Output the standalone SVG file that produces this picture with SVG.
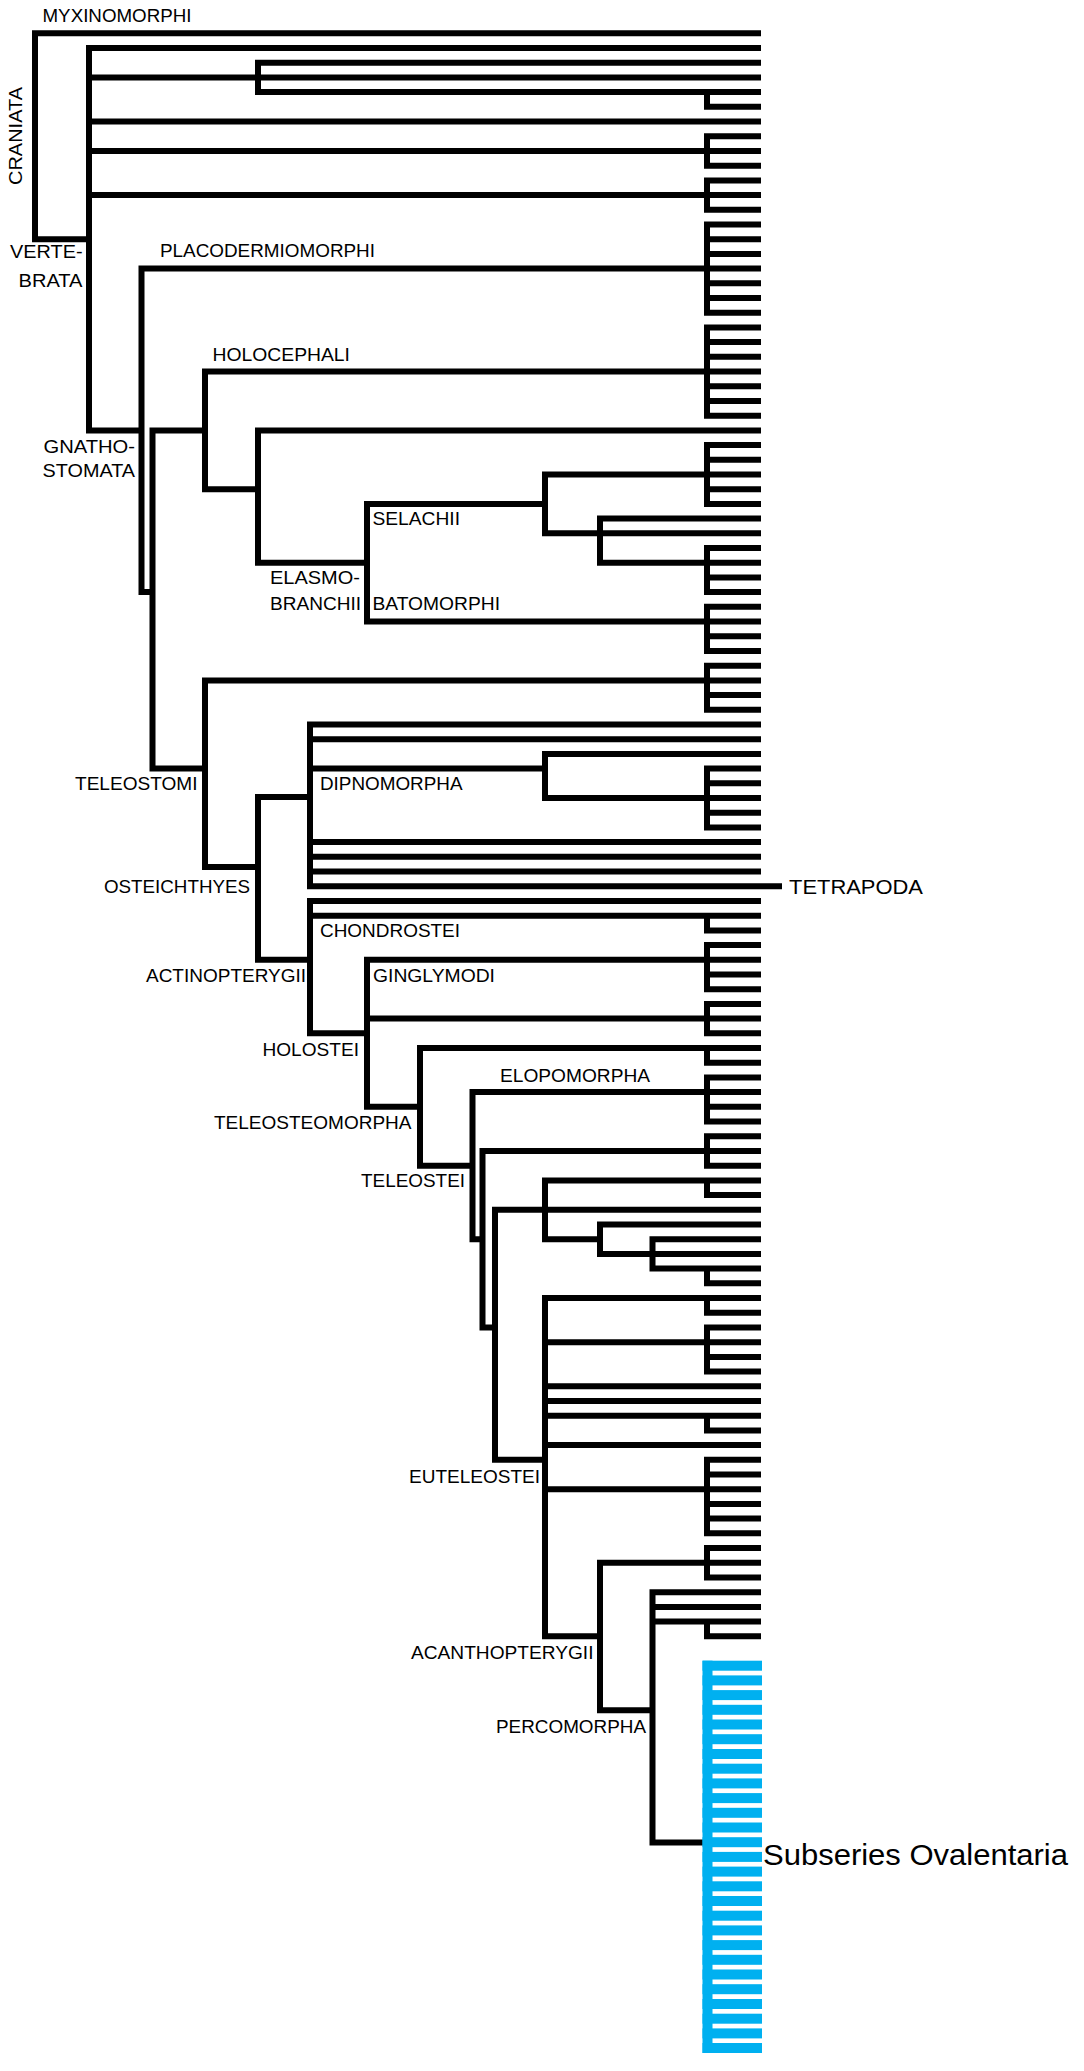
<svg xmlns="http://www.w3.org/2000/svg" width="1084" height="2071" viewBox="0 0 1084 2071">
<style>
.br{fill:none;stroke:#000;stroke-width:6;stroke-linejoin:miter;stroke-linecap:butt}
.lb{font-family:"Liberation Sans",Arial,sans-serif;font-size:18px;fill:#000}
.big{font-family:"Liberation Sans",Arial,sans-serif;fill:#000}
.bl{fill:#00B0F0}
</style>
<rect width="1084" height="2071" fill="#fff"/>
<g id="connectors">
<path class="br" d="M761,33.3H35V239.2H89"/>
<path class="br" d="M761,48H89V430.4H141.5"/>
<path class="br" d="M89,77.4H761M89,121.5H761M89,150.9H761M89,195.1H761"/>
<path class="br" d="M761,62.7H258V92.1H761"/>
<path class="br" d="M707,92.1V106.8H761"/>
<path class="br" d="M761,136.2H707V165.7H761"/>
<path class="br" d="M761,180.4H707V209.8H761"/>
<path class="br" d="M761,268.6H141.5V592.1H152.5"/>
<path class="br" d="M761,224.5H707V312.7H761M707,239.2H761M707,253.9H761M707,283.3H761M707,298H761"/>
<path class="br" d="M205,430.4H152.5V768.6H205"/>
<path class="br" d="M761,371.5H205V489.2H258"/>
<path class="br" d="M761,327.4H707V415.7H761M707,342.1H761M707,356.8H761M707,386.2H761M707,400.9H761"/>
<path class="br" d="M761,430.4H258V562.7H367"/>
<path class="br" d="M545,503.9H367V621.5H761"/>
<path class="br" d="M761,606.8H707V651H761M707,636.3H761"/>
<path class="br" d="M761,474.5H545V533.3H761"/>
<path class="br" d="M761,445.1H707V503.9H761M707,459.8H761M707,489.2H761"/>
<path class="br" d="M761,518.6H600V562.7H761"/>
<path class="br" d="M761,548H707V592.1H761M707,577.4H761"/>
<path class="br" d="M761,680.4H205V867H258"/>
<path class="br" d="M761,665.7H707V709.8H761M707,695.1H761"/>
<path class="br" d="M310,797H258V959.8H310"/>
<path class="br" d="M761,724.5H310V886.3H782"/>
<path class="br" d="M310,739.2H761M310,842.1H761M310,856.8H761M310,871.5H761"/>
<path class="br" d="M310,768.6H545"/>
<path class="br" d="M761,753.9H545V798H761"/>
<path class="br" d="M761,768.6H707V827.4H761M707,783.3H761M707,812.7H761"/>
<path class="br" d="M761,901H310V1033.3H367"/>
<path class="br" d="M310,915.7H761M707,915.7V930.4H761"/>
<path class="br" d="M761,959.8H367V1106.8H420"/>
<path class="br" d="M761,945.1H707V989.2H761M707,974.5H761"/>
<path class="br" d="M367,1018.6H761M761,1003.9H707V1033.3H761"/>
<path class="br" d="M761,1048H420V1165.7H472.5"/>
<path class="br" d="M707,1048V1062.7H761"/>
<path class="br" d="M761,1092.1H472.5V1239.2H482.5"/>
<path class="br" d="M761,1077.4H707V1121.6H761M707,1106.8H761"/>
<path class="br" d="M761,1151H482.5V1327.4H495"/>
<path class="br" d="M761,1136.3H707V1165.7H761"/>
<path class="br" d="M761,1209.8H495V1459.8H545"/>
<path class="br" d="M761,1180.4H545V1239.2H600"/>
<path class="br" d="M707,1180.4V1195.1H761"/>
<path class="br" d="M761,1224.5H600V1253.9H761"/>
<path class="br" d="M761,1239.2H652.5V1268.6H761"/>
<path class="br" d="M707,1268.6V1283.3H761"/>
<path class="br" d="M761,1298H545V1636.3H600"/>
<path class="br" d="M707,1298V1312.7H761"/>
<path class="br" d="M545,1342.2H761M761,1327.4H707V1371.6H761M707,1356.9H761"/>
<path class="br" d="M545,1386.3H761M545,1401H761M545,1415.7H761M545,1445.1H761"/>
<path class="br" d="M707,1415.7V1430.4H761"/>
<path class="br" d="M545,1489.2H761M761,1459.8H707V1533.3H761M707,1474.5H761M707,1503.9H761M707,1518.6H761"/>
<path class="br" d="M761,1562.7H600V1710.2H652.5"/>
<path class="br" d="M761,1548H707V1577.4H761"/>
<path class="br" d="M761,1592.2H652.5V1842.6H704"/>
<path class="br" d="M652.5,1606.9H761M652.5,1621.6H761"/>
<path class="br" d="M707,1621.6V1636.3H761"/>
</g>
<g id="ovalentaria">
<rect class="bl" x="702.5" y="1660.7" width="10" height="392.3"/>
<rect class="bl" x="702.5" y="1660.7" width="59.5" height="10"/>
<rect class="bl" x="702.5" y="1675.4" width="59.5" height="10"/>
<rect class="bl" x="702.5" y="1690.1" width="59.5" height="10"/>
<rect class="bl" x="702.5" y="1704.8" width="59.5" height="10"/>
<rect class="bl" x="702.5" y="1719.5" width="59.5" height="10"/>
<rect class="bl" x="702.5" y="1734.2" width="59.5" height="10"/>
<rect class="bl" x="702.5" y="1749.0" width="59.5" height="10"/>
<rect class="bl" x="702.5" y="1763.7" width="59.5" height="10"/>
<rect class="bl" x="702.5" y="1778.4" width="59.5" height="10"/>
<rect class="bl" x="702.5" y="1793.1" width="59.5" height="10"/>
<rect class="bl" x="702.5" y="1807.8" width="59.5" height="10"/>
<rect class="bl" x="702.5" y="1822.5" width="59.5" height="10"/>
<rect class="bl" x="702.5" y="1837.2" width="59.5" height="10"/>
<rect class="bl" x="702.5" y="1851.9" width="59.5" height="10"/>
<rect class="bl" x="702.5" y="1866.6" width="59.5" height="10"/>
<rect class="bl" x="702.5" y="1881.3" width="59.5" height="10"/>
<rect class="bl" x="702.5" y="1896.0" width="59.5" height="10"/>
<rect class="bl" x="702.5" y="1910.7" width="59.5" height="10"/>
<rect class="bl" x="702.5" y="1925.4" width="59.5" height="10"/>
<rect class="bl" x="702.5" y="1940.1" width="59.5" height="10"/>
<rect class="bl" x="702.5" y="1954.8" width="59.5" height="10"/>
<rect class="bl" x="702.5" y="1969.5" width="59.5" height="10"/>
<rect class="bl" x="702.5" y="1984.2" width="59.5" height="10"/>
<rect class="bl" x="702.5" y="1999.0" width="59.5" height="10"/>
<rect class="bl" x="702.5" y="2013.7" width="59.5" height="10"/>
<rect class="bl" x="702.5" y="2028.4" width="59.5" height="10"/>
<rect class="bl" x="702.5" y="2043.0" width="59.5" height="10"/>
<text class="big" x="763" y="1865" font-size="29" textLength="305" lengthAdjust="spacingAndGlyphs">Subseries Ovalentaria</text>
</g>
<g id="myxinomorphi"><text class="lb" x="42.5" y="22.3" textLength="149" lengthAdjust="spacingAndGlyphs">MYXINOMORPHI</text></g>
<g id="craniata"><text class="lb" transform="translate(22,185) rotate(-90)" x="0" y="0" textLength="98" lengthAdjust="spacingAndGlyphs">CRANIATA</text></g>
<g id="vertebrata">
<text class="lb" x="10" y="258.3" textLength="72.5" lengthAdjust="spacingAndGlyphs">VERTE-</text>
<text class="lb" x="18.5" y="286.7" textLength="64" lengthAdjust="spacingAndGlyphs">BRATA</text>
</g>
<g id="placodermiomorphi"><text class="lb" x="160" y="257.3" textLength="215" lengthAdjust="spacingAndGlyphs">PLACODERMIOMORPHI</text></g>
<g id="holocephali"><text class="lb" x="212.5" y="360.7" textLength="137.5" lengthAdjust="spacingAndGlyphs">HOLOCEPHALI</text></g>
<g id="gnathostomata">
<text class="lb" x="43.5" y="452.7" textLength="91.5" lengthAdjust="spacingAndGlyphs">GNATHO-</text>
<text class="lb" x="42.5" y="477.3" textLength="92.5" lengthAdjust="spacingAndGlyphs">STOMATA</text>
</g>
<g id="selachii"><text class="lb" x="372.5" y="525" textLength="87.5" lengthAdjust="spacingAndGlyphs">SELACHII</text></g>
<g id="elasmobranchii">
<text class="lb" x="270" y="584" textLength="90" lengthAdjust="spacingAndGlyphs">ELASMO-</text>
<text class="lb" x="270" y="610" textLength="91" lengthAdjust="spacingAndGlyphs">BRANCHII</text>
</g>
<g id="batomorphi"><text class="lb" x="372.5" y="610" textLength="127.5" lengthAdjust="spacingAndGlyphs">BATOMORPHI</text></g>
<g id="teleostomi"><text class="lb" x="75" y="790" textLength="122.5" lengthAdjust="spacingAndGlyphs">TELEOSTOMI</text></g>
<g id="dipnomorpha"><text class="lb" x="320" y="790" textLength="142.5" lengthAdjust="spacingAndGlyphs">DIPNOMORPHA</text></g>
<g id="osteichthyes"><text class="lb" x="104" y="893" textLength="146" lengthAdjust="spacingAndGlyphs">OSTEICHTHYES</text></g>
<g id="tetrapoda"><text class="big" x="789" y="894" font-size="20" textLength="134" lengthAdjust="spacingAndGlyphs">TETRAPODA</text></g>
<g id="chondrostei"><text class="lb" x="320" y="937.3" textLength="140" lengthAdjust="spacingAndGlyphs">CHONDROSTEI</text></g>
<g id="actinopterygii"><text class="lb" x="146" y="981.7" textLength="160" lengthAdjust="spacingAndGlyphs">ACTINOPTERYGII</text></g>
<g id="ginglymodi"><text class="lb" x="373" y="981.7" textLength="122" lengthAdjust="spacingAndGlyphs">GINGLYMODI</text></g>
<g id="holostei"><text class="lb" x="262.5" y="1056" textLength="96.5" lengthAdjust="spacingAndGlyphs">HOLOSTEI</text></g>
<g id="elopomorpha"><text class="lb" x="500" y="1081.7" textLength="150" lengthAdjust="spacingAndGlyphs">ELOPOMORPHA</text></g>
<g id="teleosteomorpha"><text class="lb" x="214" y="1129" textLength="197.5" lengthAdjust="spacingAndGlyphs">TELEOSTEOMORPHA</text></g>
<g id="teleostei"><text class="lb" x="361" y="1187.3" textLength="104" lengthAdjust="spacingAndGlyphs">TELEOSTEI</text></g>
<g id="euteleostei"><text class="lb" x="409" y="1483.3" textLength="131" lengthAdjust="spacingAndGlyphs">EUTELEOSTEI</text></g>
<g id="acanthopterygii"><text class="lb" x="411" y="1659" textLength="182.5" lengthAdjust="spacingAndGlyphs">ACANTHOPTERYGII</text></g>
<g id="percomorpha"><text class="lb" x="496" y="1733" textLength="150" lengthAdjust="spacingAndGlyphs">PERCOMORPHA</text></g>
</svg>
